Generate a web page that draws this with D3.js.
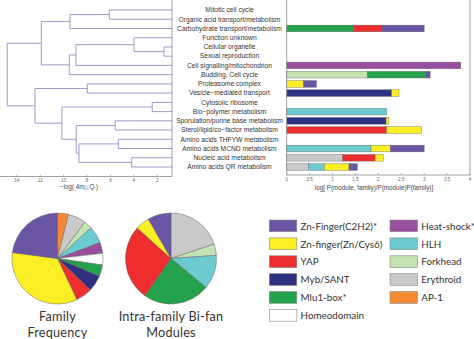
<!DOCTYPE html>
<html><head><meta charset="utf-8">
<script src="https://cdn.jsdelivr.net/npm/d3@7"></script>
<style>body{margin:0;background:#fff}svg{display:block}</style>
</head><body>
<svg id="c" width="474" height="339"></svg>
<script>
// ---------- DATA ----------
const categories = ["Mitotic cell cycle","Organic acid transport/metabolism","Carbohydrate transport/metabolism","Function unknown","Cellular organelle","Sexual reproduction","Cell signalling/mitochondrion","Budding, Cell cycle","Proteasome complex","Vesicle\u2212mediated transport","Cytosolic ribosome","Bio\u2212polymer metabolism","Sporulation/purine base metabolism","Sterol/lipid/co\u2212factor metabolism","Amino acids THFYW metabolism","Amino acids MCND metabolism","Nucleic acid metabolism","Amino acids QR metabolism"];
// dendrogram merges: [child A, child B, height]; leaves 0..17, new nodes 18..
const merges = [[0,1,6.1],[18,2,9.46],[4,5,1.43],[3,20,3.99],[21,6,8.95],[22,7,9.52],[19,23,11.91],[8,9,7.98],[10,11,2.43],[12,13,5.59],[14,15,5.33],[16,17,4.19],[28,29,8.69],[27,30,8.92],[26,31,10.15],[25,32,12.45],[24,33,14.82]];
const dendroTicks = [14,12,10,8,6,4,2];
const families = ["Zn-Finger(C2H2)*","Zn-finger(Zn/Cys6)","YAP","Myb/SANT","Mlu1-box*","Homeodomain","Heat-shock*","HLH","Forkhead","Erythroid","AP-1"];
const familyColors = ["#6a54a4","#fbee23","#ee2d2f","#2e3180","#24a24b","#ffffff","#994f9f","#6ccbd1","#c5e2b3","#c9c9c9","#f58a33"];
const barRows = ["Carbohydrate transport/metabolism","Cell signalling/mitochondrion","Budding, Cell cycle","Proteasome complex","Vesicle\u2212mediated transport","Bio\u2212polymer metabolism","Sporulation/purine base metabolism","Sterol/lipid/co\u2212factor metabolism","Amino acids MCND metabolism","Nucleic acid metabolism","Amino acids QR metabolism"];
const barFamilies = [["Mlu1-box*","YAP","Zn-Finger(C2H2)*"],["Heat-shock*"],["Forkhead","Mlu1-box*","Zn-Finger(C2H2)*"],["Zn-finger(Zn/Cys6)","Zn-Finger(C2H2)*"],["Myb/SANT","Zn-finger(Zn/Cys6)"],["HLH"],["Myb/SANT","Zn-finger(Zn/Cys6)"],["YAP","Zn-finger(Zn/Cys6)"],["HLH","Zn-finger(Zn/Cys6)","Zn-Finger(C2H2)*"],["Erythroid","YAP","Zn-finger(Zn/Cys6)"],["Erythroid","HLH","Zn-finger(Zn/Cys6)","Zn-Finger(C2H2)*"]];
const barValues = [[1.46,0.62,0.92],[3.80],[1.76,1.27,0.10],[0.37,0.28],[2.29,0.16],[2.18],[2.17,0.06],[2.18,0.76],[1.84,0.42,0.74],[1.22,0.71,0.18],[0.47,0.35,0.54,0.18]];
const barTicks = [0,0.5,1,1.5,2,2.5,3,3.5,4];
const familyFrequency = [22.9,34.1,5.8,5.8,4.1,4.1,3.9,6.1,2.9,6.4,3.9];
const bifanModules = [8.3,5.0,26.9,0,23.8,0,0,12.1,4.0,19.9,0];
const pieTitles = [["Family","Frequency"],["Intra-family Bi-fan","Modules"]];

// ---------- DRAW ----------
const svg = d3.select("#c");
const axisCol = "#8a8a8a", dendCol = "#8e91c8";
const y = d3.scalePoint().domain(categories).range([10, 167]);

// Dendrogram
const xd = d3.scaleLinear().domain([15.44, 0.74]).range([0, 172]).clamp(true);
const nodes = categories.map((c,i)=>({h:0, y:y(c)}));
merges.forEach(([a,b,h])=>{
  const A=nodes[a], B=nodes[b];
  nodes.push({h, y:(A.y+B.y)/2});
  svg.append("path").attr("stroke",dendCol).attr("stroke-width",0.9).attr("fill","none")
    .attr("d",`M${xd(A.h)},${A.y}H${xd(h)}V${B.y}H${xd(B.h)}`);
});
// dendrogram axis
const yAxis = 176.5;
svg.append("path").attr("d",`M0,${yAxis}H${xd(0.74)}V0`).attr("stroke",axisCol).attr("stroke-width",0.8).attr("fill","none");
dendroTicks.forEach(t=>{
  svg.append("line").attr("x1",xd(t)).attr("x2",xd(t)).attr("y1",yAxis).attr("y2",yAxis-2).attr("stroke",axisCol).attr("stroke-width",0.6);
  svg.append("text").attr("x",xd(t)).attr("y",yAxis+5.5).attr("text-anchor","middle").attr("font-family","Liberation Sans").attr("font-size",4.6).attr("fill","#666").text(t);
});
svg.append("text").attr("x",79).attr("y",188.5).attr("text-anchor","middle").attr("font-family","Liberation Sans").attr("font-size",6.3).attr("fill","#444").text("\u2212log( 4m\u25B3Q )");

// Category labels
svg.append("g").selectAll("text").data(categories).join("text")
  .attr("x",229.5).attr("y",d=>y(d)+2.3).attr("text-anchor","middle")
  .attr("font-family","Liberation Sans").attr("font-size",6.7).attr("fill","#333").text(d=>d);

// Bars
const xb = d3.scaleLinear().domain([0,4]).range([286.7,470]);
const barH = 6.7;
const bg = svg.append("g");
barRows.forEach((r,i)=>{
  let acc = 0;
  barValues[i].forEach((v,j)=>{
    const fam = barFamilies[i][j];
    bg.append("rect").attr("x",xb(acc)).attr("y",y(r)-barH/2).attr("width",xb(acc+v)-xb(acc)).attr("height",barH)
      .attr("fill",familyColors[families.indexOf(fam)]).attr("stroke","#6a6a6a").attr("stroke-width",0.4);
    acc += v;
  });
});
const yb = 175;
svg.append("path").attr("d",`M${xb(0)},0V${yb}H${xb(4)}V0`).attr("stroke",axisCol).attr("stroke-width",0.8).attr("fill","none");
barTicks.forEach(t=>{
  svg.append("line").attr("x1",xb(t)).attr("x2",xb(t)).attr("y1",yb).attr("y2",yb-2).attr("stroke",axisCol).attr("stroke-width",0.6);
  svg.append("text").attr("x",xb(t)).attr("y",yb+5.5).attr("text-anchor","middle").attr("font-family","Liberation Sans").attr("font-size",4.6).attr("fill","#666").text(t);
});
svg.append("text").attr("x",374).attr("y",190).attr("text-anchor","middle").attr("font-family","Liberation Sans").attr("font-size",6.3).attr("fill","#444").text("log[ P(module, family)/P(module)P(family)]");

// Pies
const pie = d3.pie().sort(null).value(d=>d.v).startAngle(0).endAngle(2*Math.PI);
const arc = d3.arc().innerRadius(0).outerRadius(45.5);
[[familyFrequency,57.5],[bifanModules,171]].forEach(([vals,cx],k)=>{
  const data = families.map((f,i)=>({f, v:vals[i], c:familyColors[i]})).reverse();
  const g = svg.append("g").attr("transform",`translate(${cx},258.5)`);
  g.selectAll("path").data(pie(data).filter(d=>d.data.v>0)).join("path")
    .attr("d",arc).attr("fill",d=>d.data.c).attr("stroke","#666").attr("stroke-width",0.5);
  pieTitles[k].forEach((t,j)=>{
    svg.append("text").attr("x",cx).attr("y",321.3+j*15.3).attr("text-anchor","middle")
      .attr("font-family","Lato").attr("font-size",12.7).attr("letter-spacing",0.2).attr("fill","#333").text(t);
  });
});

// Legend
families.forEach((f,i)=>{
  const col = i<6 ? 0 : 1, row = i<6 ? i : i-6;
  const lx = col ? 390 : 269.3, ly = 220 + row*17.9;
  svg.append("rect").attr("x",lx).attr("y",ly).attr("width",27.5).attr("height",11.7)
    .attr("fill",familyColors[i]).attr("stroke","#888").attr("stroke-width",0.6);
  svg.append("text").attr("x",lx+31.3).attr("y",ly+9.6).attr("font-family","Lato").attr("font-size",9.8).attr("fill","#333").text(f);
});
</script>
</body></html>
